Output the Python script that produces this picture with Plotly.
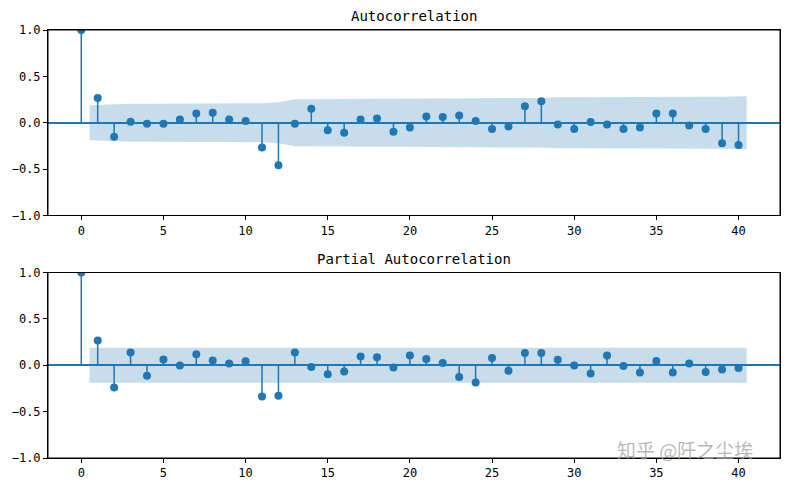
import plotly.graph_objects as go
from plotly.subplots import make_subplots

lags = list(range(0, 41))
acf_vals = [1.0, 0.268, -0.15, 0.01, -0.01, -0.01, 0.036, 0.10, 0.107, 0.036, 0.02,
            -0.268, -0.457, -0.01, 0.15, -0.082, -0.107, 0.036, 0.046, -0.096, -0.05,
            0.068, 0.061, 0.079, 0.018, -0.068, -0.04, 0.179, 0.232, -0.018, -0.068,
            0.007, -0.018, -0.068, -0.05, 0.10, 0.10, -0.029, -0.068, -0.221, -0.24]
pacf_vals = [1.0, 0.266, -0.241, 0.137, -0.112, 0.061, -0.004, 0.119, 0.05, 0.018, 0.043,
             -0.338, -0.328, 0.137, -0.018, -0.097, -0.068, 0.094, 0.086, -0.025, 0.104,
             0.068, 0.025, -0.126, -0.187, 0.079, -0.058, 0.133, 0.133, 0.058, -0.004,
             -0.09, 0.104, -0.007, -0.079, 0.047, -0.079, 0.018, -0.072, -0.047, -0.029]
# confidence band half-widths for lags 1..40
band_x = [0.5] + list(range(2, 40)) + [40.5]
acf_conf = [0.189, 0.202, 0.206, 0.206, 0.206, 0.206, 0.206, 0.208, 0.210, 0.210,
            0.210, 0.222, 0.253, 0.253, 0.256, 0.257, 0.259, 0.259, 0.259, 0.260,
            0.261, 0.261, 0.262, 0.263, 0.263, 0.263, 0.264, 0.268, 0.275, 0.275,
            0.276, 0.276, 0.276, 0.276, 0.277, 0.278, 0.279, 0.279, 0.280, 0.286]
pacf_conf = [0.189] * 40

titles = ["Autocorrelation", "Partial Autocorrelation"]
yticks = [-1.0, -0.5, 0.0, 0.5, 1.0]
xticks = [0, 5, 10, 15, 20, 25, 30, 35, 40]

C0 = "#1f77b4"
FONT = "DejaVu Sans Mono"

fig = make_subplots(rows=2, cols=1, vertical_spacing=0.1332)

def add_panel(row, vals, conf):
    fig.add_trace(go.Scatter(x=band_x, y=[-c for c in conf], mode="lines",
                             line=dict(width=0), hoverinfo="skip", showlegend=False),
                  row=row, col=1)
    fig.add_trace(go.Scatter(x=band_x, y=conf, mode="lines", line=dict(width=0),
                             fill="tonexty", fillcolor="rgba(31,119,180,0.25)",
                             hoverinfo="skip", showlegend=False), row=row, col=1)
    sx, sy = [], []
    for l, v in zip(lags, vals):
        sx += [l, l, None]
        sy += [0, v, None]
    fig.add_trace(go.Scatter(x=sx, y=sy, mode="lines", line=dict(color=C0, width=1.5),
                             showlegend=False), row=row, col=1)
    fig.add_trace(go.Scatter(x=lags, y=vals, mode="markers",
                             marker=dict(color=C0, size=8), showlegend=False),
                  row=row, col=1)

add_panel(1, acf_vals, acf_conf)
add_panel(2, pacf_vals, pacf_conf)

axis_common = dict(showline=True, mirror=True, linecolor="black", linewidth=1,
                   ticks="outside", ticklen=4, tickcolor="black", showgrid=False,
                   automargin=False,
                   tickfont=dict(family=FONT, size=12, color="black"))
for r in (1, 2):
    fig.update_xaxes(range=[-2.025, 42.525], tickvals=xticks, zeroline=False,
                     row=r, col=1, **axis_common)
    fig.update_yaxes(range=[-1, 1], tickvals=yticks, tickformat=".1f", zeroline=True,
                     zerolinecolor=C0, zerolinewidth=2, row=r, col=1, **axis_common)

# full black frame around each panel
for xr, yr in (("x", "y"), ("x2", "y2")):
    fig.add_shape(type="rect", xref=f"{xr} domain", yref=f"{yr} domain",
                  x0=0, x1=1, y0=0, y1=1, line=dict(color="black", width=1),
                  fillcolor="rgba(0,0,0,0)", layer="above")

fig.add_annotation(text=titles[0], xref="paper", yref="paper", x=0.5, y=1.0327,
                   showarrow=False, yanchor="middle",
                   font=dict(family=FONT, size=14, color="black"))
fig.add_annotation(text=titles[1], xref="paper", yref="paper", x=0.5, y=0.465,
                   showarrow=False, yanchor="middle",
                   font=dict(family=FONT, size=14, color="black"))
fig.add_annotation(text="知乎 @阡之尘埃", xref="paper", yref="paper",
                   x=(685 - 48) / 732, y=(458 - 449) / 428, showarrow=False,
                   xanchor="center", yanchor="middle",
                   font=dict(family="Noto Sans CJK SC", size=19, color="rgba(160,160,160,0.75)"))

# page body has an 8px margin, so the figure is sized and offset to compensate
fig.update_layout(width=774, height=474, margin=dict(l=40, r=2, t=22, b=24),
                  plot_bgcolor="white", paper_bgcolor="white", showlegend=False)

fig.write_html("out.html")
